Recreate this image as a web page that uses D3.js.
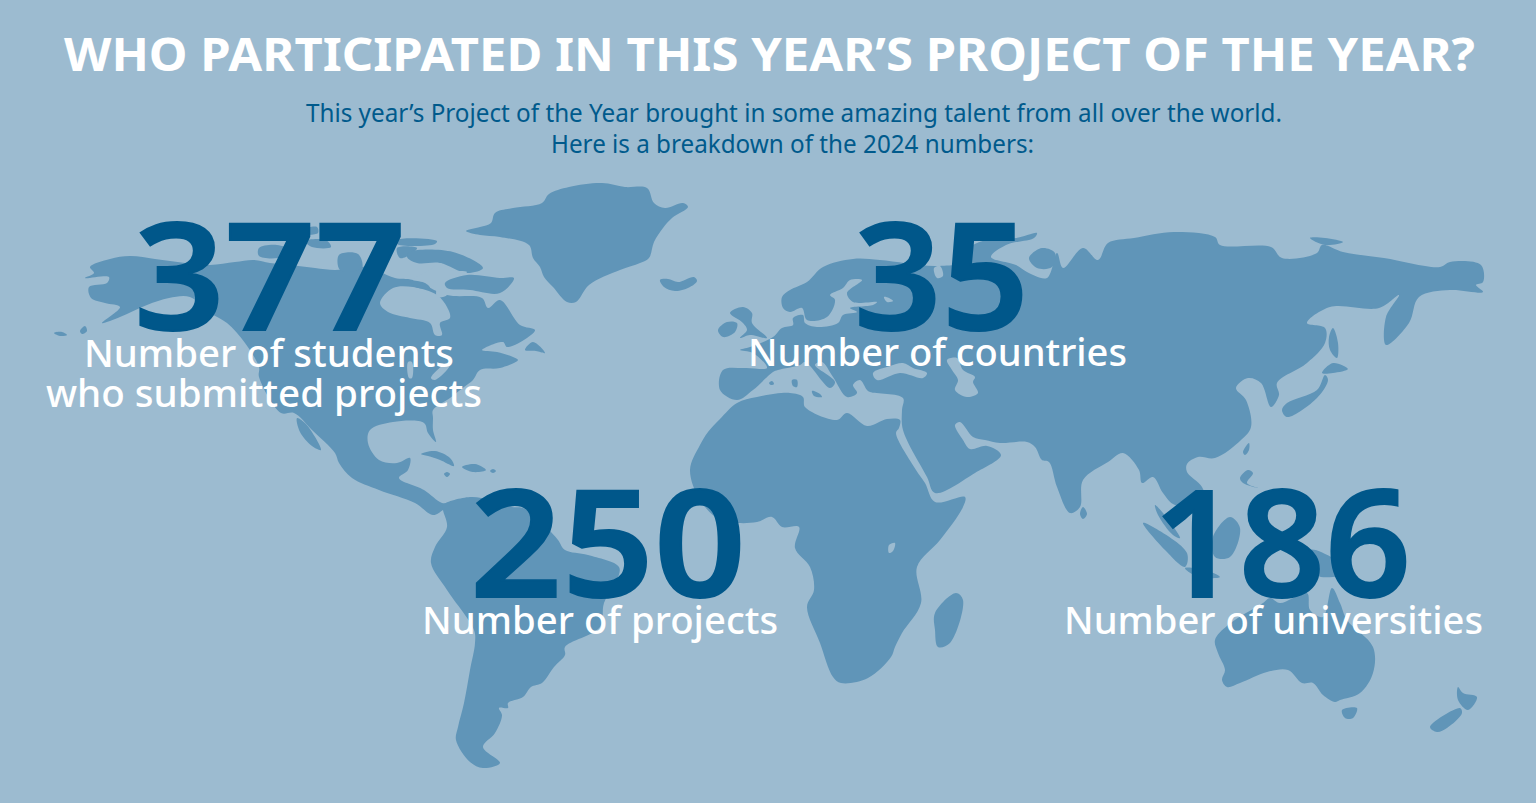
<!DOCTYPE html>
<html>
<head>
<meta charset="utf-8">
<script src="https://cdn.jsdelivr.net/npm/d3@7"></script>
<style>
  html, body { margin: 0; padding: 0; background: #9cbbd0; overflow: hidden; }
  text { font-family: "Noto Sans", sans-serif; }
</style>
</head>
<body>
<div id="d3-container"></div>
<script>
// the numbers
const statValues = [377, 35, 250, 186];
const statLabels = [
    ["Number of students", "who submitted projects"],
    ["Number of countries"],
    ["Number of projects"],
    ["Number of universities"]
];
const titleText = "WHO PARTICIPATED IN THIS YEAR\u2019S PROJECT OF THE YEAR?";
const introLines = [
    "This year\u2019s Project of the Year brought in some amazing talent from all over the world.",
    "Here is a breakdown of the 2024 numbers:"
];

// map outlines in map units
const greenland = [[466,231],[480,227],[491,223],[495,213],[513,208],[542,203],[549,194],[569,187],[602,183],[625,187],[647,188],[654,203],[665,208],[683,203],[688,207],[672,218],[663,228],[654,242],[649,258],[640,263],[620,270],[589,285],[576,302],[567,302],[553,287],[544,277],[540,267],[533,258],[529,245],[500,237],[480,235]];
const iceland = [[660,280],[668,279],[678,282],[694,277],[697,281],[690,287],[675,291],[664,287]];
const northAmerica = [[90,267],[110,259],[130,256],[155,259],[185,263],[210,265],[235,262],[254,260],[270,263],[290,265],[315,268],[335,270],[352,268],[366,267],[380,272],[395,278],[413,280],[447,295],[482,298],[488,308],[500,300],[520,325],[535,330],[527,338],[507,347],[503,342],[482,350],[497,352],[513,357],[518,360],[500,368],[480,370],[473,380],[464,387],[450,398],[433,410],[433,418],[433,430],[436,442],[428,433],[424,423],[393,422],[370,430],[368,443],[379,460],[397,463],[410,458],[408,470],[399,478],[424,490],[442,503],[451,503],[443,510],[433,515],[415,503],[379,490],[352,478],[339,463],[335,453],[312,430],[294,413],[281,413],[259,377],[259,367],[245,343],[227,323],[210,313],[190,297],[169,298],[147,305],[120,317],[102,323],[120,307],[105,303],[91,298],[89,287],[107,283],[109,277],[85,278],[94,273]];
const baja = [[297,418],[306,424],[321,450],[312,446],[300,432]];
const alaskaIslands = [[54,333],[62,332],[67,335],[60,336]];
const aleutianEast = [[80,331],[85,326],[87,331],[82,334]];
const banks = [[259,248],[277,245],[290,250],[283,257],[259,256]];
const victoria = [[305,241],[326,240],[331,247],[312,247]];
const melville = [[339,255],[358,254],[362,268],[340,270]];
const queenElizabeth = [[303,230],[317,227],[318,233],[304,234]];
const ellesmere = [[397,240],[437,241],[435,244],[397,244]];
const devon = [[397,248],[417,248],[413,253],[400,258]];
const baffinNorth = [[410,252],[453,252],[483,268],[467,273],[440,263],[417,263],[407,257]];
const newfoundland = [[525,350],[533,342],[545,353],[536,351]];
const cuba = [[421,454],[435,451],[450,458],[454,466],[440,460],[428,456]];
const hispaniola = [[462,467],[475,464],[486,470],[473,472]];
const jamaica = [[444,474],[447,472],[450,474],[447,477]];
const puertoRico = [[490,471],[493,469],[496,471],[493,473]];
const southAmerica = [[443,505],[470,497],[490,500],[512,507],[523,508],[546,527],[558,540],[565,550],[588,555],[619,567],[617,580],[604,603],[600,627],[565,647],[565,655],[554,667],[542,683],[531,687],[523,697],[508,703],[508,708],[499,708],[502,715],[495,733],[483,747],[500,763],[483,768],[470,762],[456,740],[458,727],[464,703],[470,670],[475,643],[474,630],[447,590],[431,563],[435,547],[447,527],[443,510]];
const africa = [[720,419],[708,432],[700,445],[690,470],[700,500],[720,520],[738,523],[757,522],[772,517],[782,527],[799,527],[795,548],[810,567],[814,590],[807,607],[820,643],[833,677],[841,683],[868,678],[891,657],[895,647],[902,633],[921,603],[917,567],[940,540],[963,507],[965,497],[935,502],[925,483],[916,470],[896,433],[899,428],[900,420],[887,419],[867,426],[847,413],[837,420],[805,407],[803,397],[790,393],[757,397],[737,403]];
const madagascar = [[935,613],[956,593],[963,600],[950,643],[938,647],[935,630]];
const eurasia = [[737,400],[720,390],[723,370],[745,368],[767,368],[753,353],[740,350],[750,347],[773,337],[782,328],[793,325],[793,318],[803,315],[805,323],[817,327],[838,323],[843,315],[857,312],[850,308],[873,305],[877,302],[853,302],[847,293],[862,280],[850,280],[843,288],[830,295],[835,300],[827,317],[807,320],[802,308],[790,312],[783,308],[782,297],[790,290],[807,282],[823,267],[853,259],[880,260],[937,266],[970,260],[970,248],[986,240],[1016,238],[1037,233],[1034,238],[1006,245],[991,257],[1016,265],[1027,272],[1047,278],[1057,253],[1063,268],[1083,248],[1098,260],[1108,243],[1134,238],[1174,232],[1215,237],[1220,245],[1271,247],[1282,258],[1317,253],[1322,245],[1343,252],[1384,258],[1440,267],[1450,262],[1481,265],[1483,282],[1476,285],[1483,292],[1450,290],[1419,297],[1409,323],[1386,345],[1386,317],[1399,295],[1379,308],[1330,307],[1307,323],[1325,328],[1325,343],[1307,363],[1277,383],[1279,395],[1271,407],[1261,383],[1248,378],[1236,388],[1246,400],[1251,427],[1241,440],[1215,458],[1198,457],[1187,464],[1187,472],[1202,487],[1205,502],[1175,505],[1163,493],[1153,477],[1142,483],[1139,470],[1123,453],[1108,462],[1083,480],[1080,507],[1070,513],[1057,487],[1049,462],[1042,460],[1035,447],[1027,442],[1000,443],[985,440],[973,437],[960,422],[955,425],[963,440],[970,449],[987,446],[1001,455],[975,473],[935,493],[927,477],[903,430],[902,410],[903,398],[870,392],[867,390],[860,380],[853,385],[857,393],[847,397],[833,377],[822,362],[815,365],[835,382],[830,388],[805,362],[800,365],[778,370],[773,372],[753,390]];
const britain = [[730,313],[743,307],[752,313],[752,323],[767,338],[750,335],[740,338],[747,330],[743,323]];
const ireland = [[718,330],[727,322],[737,323],[735,332],[723,337]];
const severnaya = [[1310,238],[1325,238],[1343,242],[1325,245]];
const novaya = [[1029,258],[1042,248],[1055,253],[1052,267],[1037,268]];
const sakhalin = [[1333,328],[1338,343],[1337,358],[1330,350],[1329,337]];
const hokkaido = [[1322,373],[1333,363],[1348,369],[1333,373]];
const honshu = [[1282,410],[1287,417],[1317,398],[1328,380],[1325,375],[1317,390],[1287,403]];
const taiwan = [[1243,452],[1249,443],[1249,450],[1245,455]];
const sriLanka = [[1083,507],[1087,514],[1083,519],[1080,514]];
const luzon = [[1248,470],[1253,473],[1247,483],[1258,488],[1243,483],[1240,478]];
const mindanao = [[1258,512],[1267,508],[1268,515],[1263,520]];
const borneo = [[1213,537],[1230,517],[1240,528],[1230,557],[1215,557]];
const sumatra = [[1143,523],[1153,527],[1187,553],[1185,567],[1165,550]];
const malaya = [[1155,505],[1163,513],[1180,538],[1173,535],[1158,515]];
const java = [[1185,568],[1205,570],[1220,577],[1207,578],[1192,574]];
const sulawesi = [[1250,553],[1256,555],[1255,565],[1250,563]];
const newGuinea = [[1310,550],[1333,558],[1350,573],[1333,577],[1317,575]];
const australia = [[1215,640],[1228,625],[1263,603],[1270,598],[1280,603],[1307,593],[1310,610],[1323,617],[1332,588],[1340,603],[1347,620],[1373,647],[1373,673],[1360,693],[1340,700],[1335,702],[1323,695],[1313,683],[1302,683],[1288,670],[1267,672],[1240,683],[1227,687],[1222,680],[1225,670],[1218,653]];
const tasmania = [[1342,710],[1357,708],[1353,718],[1345,718]];
const newZealandSouth = [[1430,727],[1460,708],[1462,713],[1447,728],[1437,732]];
const newZealandNorth = [[1458,687],[1463,693],[1477,697],[1468,710],[1458,700]];

const landShapes = [greenland, iceland, northAmerica, baja, alaskaIslands, aleutianEast, banks, victoria, melville, queenElizabeth, ellesmere, devon, baffinNorth, newfoundland, cuba, hispaniola, jamaica, puertoRico, southAmerica, africa, madagascar, eurasia, britain, ireland, severnaya, novaya, sakhalin, hokkaido, honshu, taiwan, sriLanka, luzon, mindanao, borneo, sumatra, malaya, java, sulawesi, newGuinea, australia, tasmania, newZealandSouth, newZealandNorth];

// inland water painted back on top of the land
const hudsonBay = [[380,303],[393,288],[413,287],[437,295],[447,307],[450,318],[440,323],[442,335],[435,335],[430,323],[410,318],[388,312]];
const foxeBasin = [[430,270],[440,263],[450,270],[467,272],[453,280],[445,283],[447,295],[437,297],[435,287],[413,280]];
const michigan = [[408,362],[412,362],[412,378],[409,378]];
const erie = [[431,378],[447,363],[450,365],[435,380]];
const blackSea = [[873,373],[890,366],[903,363],[913,368],[927,373],[923,378],[900,373],[877,380]];
const caspian = [[947,360],[957,358],[963,370],[975,377],[973,382],[978,393],[967,397],[955,390],[958,380],[952,370]];
const ladoga = [[884,297],[889,298],[893,301],[887,302]];
const whiteSea = [[934,268],[940,266],[943,276],[937,278]];
const lakeVictoria = [[889,545],[895,543],[893,551],[889,553]];

const waterShapes = [hudsonBay, foxeBasin, michigan, erie, blackSea, caspian, ladoga, whiteSea, lakeVictoria];

// islands that sit inside the painted water or the open sea
const southampton = [[410,281],[425,283],[430,288],[415,287]];
const baffinSouth = [[445,283],[467,275],[500,278],[514,278],[500,293],[470,290],[447,288]];
const balearic = [[769,383],[772,381],[774,384],[771,385]];
const sardinia = [[792,380],[797,380],[797,387],[793,386]];
const sicily = [[812,391],[820,394],[822,397],[814,396]];

const islandShapes = [southampton, baffinSouth, balearic, sardinia, sicily];

// page set up
const width = 1536;
const height = 803;
const colors = {bg: "#9cbbd0", land: "#6095b8", number: "#00578a", label: "#ffffff", intro: "#005a8c"};

// where the text goes: left edge, width and baseline
const statLayout = [
    {x: 134, w: 272, y: 330},
    {x: 854, w: 175, y: 330},
    {x: 470, w: 276, y: 597},
    {x: 1153, w: 258, y: 597}
];
const labelLayout = [
    [{x: 84, w: 370, y: 367}, {x: 46, w: 436, y: 407}],
    [{x: 748, w: 379, y: 366}],
    [{x: 422, w: 356, y: 634}],
    [{x: 1064, w: 419, y: 634}]
];
const introLayout = [{x: 306, w: 976, y: 122}, {x: 551, w: 483, y: 153}];

const svg = d3.select("#d3-container")
    .append("svg")
    .attr("width", width)
    .attr("height", height)
    .attr("viewBox", [0, 0, width, height])
    .style("display", "block");

svg.append("rect").attr("width", width).attr("height", height).attr("fill", colors.bg);

// map units sit straight on the page
const x = d3.scaleLinear().domain([0, 1536]).range([0, width]);
const y = d3.scaleLinear().domain([0, 803]).range([0, height]);

const outline = d3.line()
    .x(d => x(d[0]))
    .y(d => y(d[1]))
    .curve(d3.curveCatmullRomClosed.alpha(0.5));

function drawShapes(shapes, fill) {
    svg.append("g")
        .selectAll("path")
        .data(shapes)
        .join("path")
        .attr("d", outline)
        .attr("fill", fill);
}

drawShapes(landShapes, colors.land);
drawShapes(waterShapes, colors.bg);
drawShapes(islandShapes, colors.land);

// title and intro
svg.append("text")
    .attr("x", 64).attr("y", 71)
    .attr("textLength", 1411).attr("lengthAdjust", "spacingAndGlyphs")
    .attr("font-size", 47).attr("font-weight", 700)
    .attr("fill", colors.label)
    .text(titleText);

svg.append("g")
    .selectAll("text")
    .data(introLines)
    .join("text")
    .attr("x", (d, i) => introLayout[i].x)
    .attr("y", (d, i) => introLayout[i].y)
    .attr("textLength", (d, i) => introLayout[i].w)
    .attr("lengthAdjust", "spacingAndGlyphs")
    .attr("font-size", 25)
    .attr("fill", colors.intro)
    .text(d => d);

// big numbers, semi bold with a thin stroke to reach the weight of the original
svg.append("g")
    .selectAll("text")
    .data(statValues)
    .join("text")
    .attr("x", (d, i) => statLayout[i].x)
    .attr("y", (d, i) => statLayout[i].y)
    .attr("textLength", (d, i) => statLayout[i].w)
    .attr("lengthAdjust", "spacingAndGlyphs")
    .attr("font-size", 149).attr("font-weight", 600)
    .attr("fill", colors.number)
    .attr("stroke", colors.number)
    .attr("stroke-width", 2)
    .text(d => d);

// labels under the numbers
svg.append("g")
    .selectAll("g")
    .data(statLabels)
    .join("g")
    .each(function(lines, i) {
        d3.select(this).selectAll("text")
            .data(lines)
            .join("text")
            .attr("x", (d, j) => labelLayout[i][j].x)
            .attr("y", (d, j) => labelLayout[i][j].y)
            .attr("textLength", (d, j) => labelLayout[i][j].w)
            .attr("lengthAdjust", "spacingAndGlyphs")
            .attr("font-size", 38).attr("font-weight", 500)
            .attr("fill", colors.label)
            .text(d => d);
    });
</script>
</body>
</html>
